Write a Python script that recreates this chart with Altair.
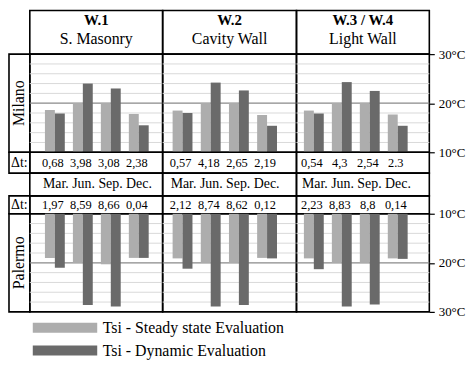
import altair as alt
import pandas as pd

# ---------------- data ----------------
months = ["Mar.", "Jun.", "Sep.", "Dec."]
walls = ["W.1", "W.2", "W.3 / W.4"]
wall_names = ["S. Masonry", "Cavity Wall", "Light Wall"]
cities = ["Milano", "Palermo"]
series = ["Tsi - Steady state Evaluation", "Tsi - Dynamic Evaluation"]

milano_steady = [
    [18.6, 20.0, 20.0, 17.8],
    [18.5, 20.0, 20.0, 17.6],
    [18.5, 20.0, 20.0, 17.7],
]
milano_dynamic = [
    [17.9, 24.0, 23.0, 15.5],
    [18.0, 24.2, 22.6, 15.4],
    [17.9, 24.3, 22.5, 15.4],
]
palermo_steady = [
    [19.0, 20.0, 20.3, 19.0],
    [19.1, 20.0, 20.0, 19.0],
    [19.1, 20.0, 20.0, 19.1],
]
palermo_dynamic = [
    [21.0, 28.6, 28.9, 19.0],
    [21.2, 28.9, 28.6, 19.1],
    [21.3, 28.9, 28.5, 19.2],
]
milano_dt = [
    ["0,68", "3,98", "3,08", "2,38"],
    ["0,57", "4,18", "2,65", "2,19"],
    ["0,54", "4,3", "2,54", "2.3"],
]
palermo_dt = [
    ["1,97", "8,59", "8,66", "0,04"],
    ["2,12", "8,74", "8,62", "0,12"],
    ["2,23", "8,83", "8,8", "0,14"],
]
minor_temps = [12, 14, 16, 18, 22, 24, 26, 28]
major_temps = [20]
axis_temps = [10, 20, 30]

# ---------------- style / layout ----------------
FONT = "'Liberation Serif', 'Times New Roman', Times, serif"
LEFT_W = 21
COL_W = [134, 135, 134]
ROW_H = [44, 99, 21, 23, 18, 99]
BAND_ALIGN = [0.52, 0.34, 0.255]
color_scale = alt.Scale(domain=series, range=["#adadad", "#6a6a6a"])
legend = alt.Legend(
    orient="none", legendX=48.5, legendY=312, direction="vertical", title=None,
    symbolType="M-6.5,-1H6.5V1H-6.5Z", symbolSize=100, symbolStrokeWidth=0,
    symbolOpacity=1, labelFont=FONT, labelFontSize=16, labelColor="black",
    labelOffset=30, labelLimit=400, rowPadding=7, padding=0,
)
NOSTROKE = alt.ViewBackground(stroke="transparent")


def xscale(ci):
    return alt.Scale(type="band", domain=months, paddingInner=0.29, paddingOuter=0.52,
                     align=BAND_ALIGN[ci])


def bar_panel(ci, city):
    steady = (milano_steady if city == "Milano" else palermo_steady)[ci]
    dynamic = (milano_dynamic if city == "Milano" else palermo_dynamic)[ci]
    rows = []
    for m, s, d in zip(months, steady, dynamic):
        rows.append({"month": m, "series": series[0], "temp": s})
        rows.append({"month": m, "series": series[1], "temp": d})
    df = pd.DataFrame(rows)
    ys = alt.Scale(domain=[10, 30], reverse=(city == "Palermo"), nice=False, zero=False)
    if ci == 2:
        yaxis = alt.Axis(orient="right", values=axis_temps,
                         labelExpr="datum.value + '°C'", title=None,
                         domain=False, grid=False, tickSize=5, tickColor="black",
                         tickWidth=1.2, labelFont=FONT, labelFontSize=13,
                         labelColor="black", labelPadding=4)
    else:
        yaxis = None
    minor = alt.Chart(pd.DataFrame({"temp": minor_temps})).mark_rule(
        color="#d9d9d9", strokeWidth=1).encode(y=alt.Y("temp:Q", scale=ys, axis=yaxis))
    major = alt.Chart(pd.DataFrame({"temp": major_temps})).mark_rule(
        color="#8a8a8a", strokeWidth=1.2).encode(y=alt.Y("temp:Q", scale=ys, axis=yaxis))
    bars = alt.Chart(df).mark_bar().encode(
        x=alt.X("month:N", scale=xscale(ci), axis=None, sort=months),
        xOffset=alt.XOffset("series:N", sort=series,
                            scale=alt.Scale(domain=series, paddingInner=0, paddingOuter=0)),
        y=alt.Y("temp:Q", scale=ys, axis=yaxis),
        y2=alt.datum(10),
        color=alt.Color("series:N", scale=color_scale, legend=legend),
    )
    return alt.layer(minor, major, bars).properties(width=COL_W[ci], height=ROW_H[1])


def header_cell(ci):
    w = COL_W[ci]
    base = alt.Chart(pd.DataFrame({"code": [walls[ci]], "name": [wall_names[ci]]}))
    t1 = base.mark_text(font=FONT, fontSize=15, fontWeight="bold", color="black").encode(
        x=alt.value(w / 2), y=alt.value(10), text="code:N")
    t2 = base.mark_text(font=FONT, fontSize=16, color="black").encode(
        x=alt.value(w / 2), y=alt.value(29), text="name:N")
    return alt.layer(t1, t2).properties(width=w, height=ROW_H[0])


def dt_cell(ci, values, h):
    df = pd.DataFrame({"month": months, "dt": values})
    return alt.Chart(df).mark_text(font=FONT, fontSize=12.5, color="black", dx=-2).encode(
        x=alt.X("month:N", scale=xscale(ci), axis=None, sort=months, bandPosition=0.5),
        y=alt.value(h / 2),
        text="dt:N",
    ).properties(width=COL_W[ci], height=h)


def months_cell(ci):
    df = pd.DataFrame({"month": [months[0]], "label": [" ".join(months)]})
    return alt.Chart(df).mark_text(font=FONT, fontSize=14, color="black", align="left", dx=-2).encode(
        x=alt.X("month:N", scale=xscale(ci), axis=None, bandPosition=0),
        y=alt.value(ROW_H[3] / 2),
        text="label:N",
    ).properties(width=COL_W[ci], height=ROW_H[3])


def left_text(label, h, angle=0, size=14, stroke=True):
    ch = alt.Chart(pd.DataFrame({"t": [label]}))
    if angle:
        m = ch.mark_text(font=FONT, fontSize=size, color="black", angle=angle)
    else:
        m = ch.mark_text(font=FONT, fontSize=size, color="black")
    c = m.encode(x=alt.value(LEFT_W / 2), y=alt.value(h / 2), text="t:N")
    if stroke:
        return c.properties(width=LEFT_W, height=h)
    return c.properties(width=LEFT_W, height=h, view=NOSTROKE)


left_cells = [
    left_text("", ROW_H[0], stroke=False),
    left_text(cities[0], ROW_H[1], angle=270, size=16),
    left_text("Δt:", ROW_H[2], size=14),
    left_text("", ROW_H[3], stroke=False),
    left_text("Δt:", ROW_H[4], size=14),
    left_text(cities[1], ROW_H[5], angle=270, size=16),
]
col_cells = []
for ci in range(3):
    col_cells.append([
        header_cell(ci),
        bar_panel(ci, "Milano"),
        dt_cell(ci, milano_dt[ci], ROW_H[2]),
        months_cell(ci),
        dt_cell(ci, palermo_dt[ci], ROW_H[4]),
        bar_panel(ci, "Palermo"),
    ])

cells = []
for r in range(6):
    cells.append(left_cells[r])
    for ci in range(3):
        cells.append(col_cells[ci][r])

chart = alt.concat(
    *cells, columns=4, spacing=0, bounds="flush", align="each"
).properties(padding=0).configure(font=FONT).configure_view(
    stroke="black", strokeWidth=1.6
)

chart.save("out.html", embed_options={"renderer": "svg", "actions": False})
